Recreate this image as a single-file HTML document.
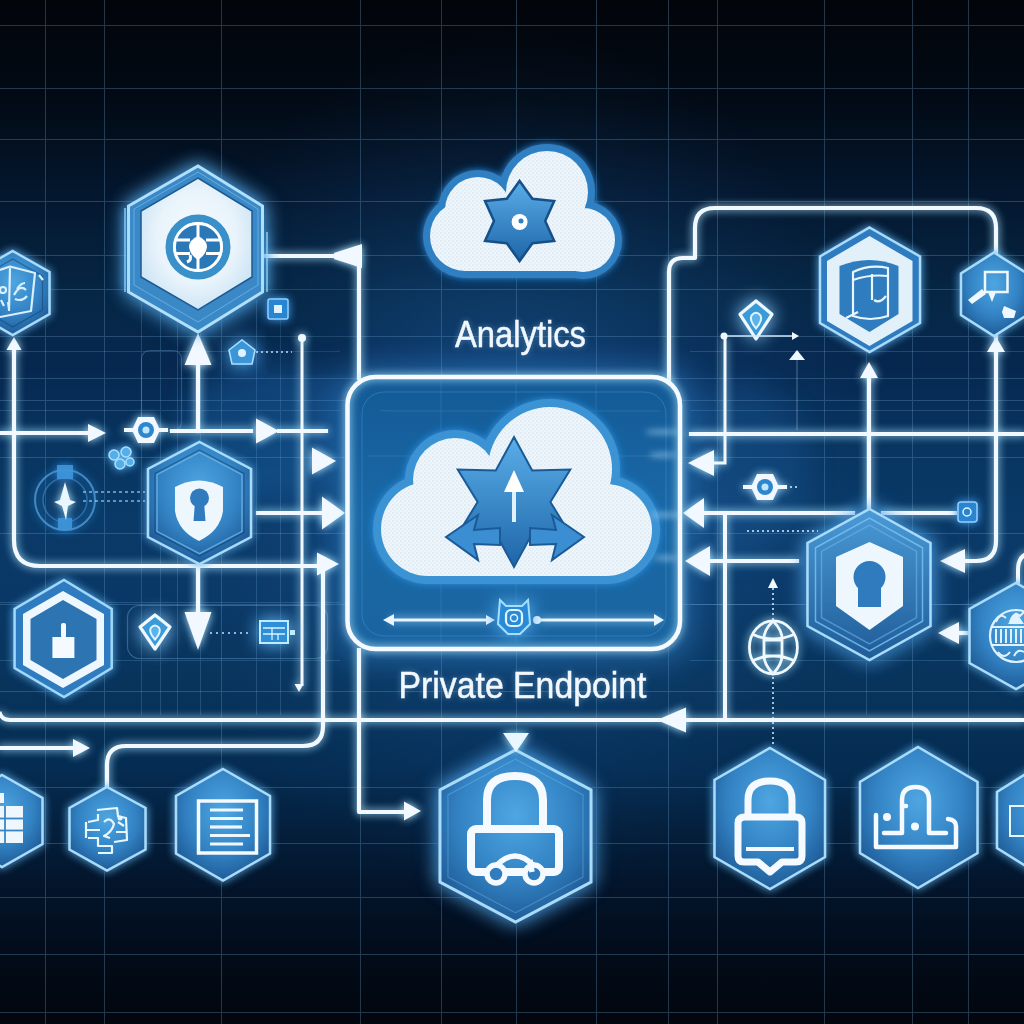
<!DOCTYPE html>
<html><head><meta charset="utf-8"><style>
html,body{margin:0;padding:0;background:#050b14;width:1024px;height:1024px;overflow:hidden}
svg{display:block}
text{font-family:"Liberation Sans",sans-serif}
</style></head><body>
<svg width="1024" height="1024" viewBox="0 0 1024 1024">
<defs>
<linearGradient id="bg" x1="0" y1="0" x2="0" y2="1">
<stop offset="0.0000" stop-color="#02050a"/>
<stop offset="0.0977" stop-color="#020a15"/>
<stop offset="0.1953" stop-color="#041830"/>
<stop offset="0.2930" stop-color="#062746"/>
<stop offset="0.3613" stop-color="#062850"/>
<stop offset="0.4297" stop-color="#083460"/>
<stop offset="0.5078" stop-color="#0a3a68"/>
<stop offset="0.5859" stop-color="#0a3866"/>
<stop offset="0.6641" stop-color="#08345c"/>
<stop offset="0.7520" stop-color="#052c52"/>
<stop offset="0.8105" stop-color="#041f3c"/>
<stop offset="0.8691" stop-color="#03142a"/>
<stop offset="0.9375" stop-color="#020b18"/>
<stop offset="1.0000" stop-color="#02060d"/>
</linearGradient>
<radialGradient id="cglow" cx="512" cy="460" r="430" gradientUnits="userSpaceOnUse" gradientTransform="translate(512 460) scale(0.85 1) translate(-512 -460)">
<stop offset="0" stop-color="#2f8ae0" stop-opacity="0.40"/>
<stop offset="0.45" stop-color="#1f6ab8" stop-opacity="0.22"/>
<stop offset="1" stop-color="#1a4a80" stop-opacity="0"/>
</radialGradient>
<linearGradient id="boxfill" x1="0" y1="0" x2="0" y2="1">
<stop offset="0" stop-color="#135a96"/>
<stop offset="0.5" stop-color="#1a68a6"/>
<stop offset="1" stop-color="#1a64a0"/>
</linearGradient>
<linearGradient id="hexblue" x1="0" y1="0" x2="0" y2="1">
<stop offset="0" stop-color="#4a9ad6"/>
<stop offset="1" stop-color="#1f5c98"/>
</linearGradient>
<linearGradient id="hexblue2" x1="0" y1="0" x2="0" y2="1">
<stop offset="0" stop-color="#3f8fcf"/>
<stop offset="1" stop-color="#1b4f86"/>
</linearGradient>
<radialGradient id="hexrad" cx="0.5" cy="0.38" r="0.62">
<stop offset="0" stop-color="#4ea6e2"/>
<stop offset="0.6" stop-color="#3383c4"/>
<stop offset="1" stop-color="#205c98"/>
</radialGradient>
<radialGradient id="hexwhite" cx="0.5" cy="0.45" r="0.6">
<stop offset="0" stop-color="#f8fcff"/>
<stop offset="0.6" stop-color="#e8f3fb"/>
<stop offset="1" stop-color="#c9e2f4"/>
</radialGradient>
<linearGradient id="star" x1="0" y1="0" x2="0" y2="1">
<stop offset="0" stop-color="#5aaee8"/>
<stop offset="1" stop-color="#1e65a8"/>
</linearGradient>
<pattern id="dots" width="4" height="4" patternUnits="userSpaceOnUse">
<rect width="4" height="4" fill="#eef6fc"/><circle cx="1" cy="1" r="0.8" fill="#d0e2f0"/><circle cx="3" cy="3" r="0.8" fill="#dbe9f5"/>
</pattern>
<filter id="glow" filterUnits="userSpaceOnUse" x="-50" y="-50" width="1124" height="1124">
<feGaussianBlur in="SourceGraphic" stdDeviation="4" result="b0"/>
<feColorMatrix in="b0" type="matrix" values="0.45 0 0 0 0  0 0.8 0 0 0.02  0 0 1 0 0.05  0 0 0 1.1 0" result="b"/>
<feMerge><feMergeNode in="b"/><feMergeNode in="SourceGraphic"/></feMerge>
</filter>
<filter id="glow2" filterUnits="userSpaceOnUse" x="-50" y="-50" width="1124" height="1124">
<feGaussianBlur in="SourceGraphic" stdDeviation="9" result="b0"/>
<feColorMatrix in="b0" type="matrix" values="0.45 0 0 0 0  0 0.8 0 0 0.02  0 0 1 0 0.05  0 0 0 1.2 0" result="b"/>
<feMerge><feMergeNode in="b"/><feMergeNode in="SourceGraphic"/></feMerge>
</filter>
<filter id="blur3" filterUnits="userSpaceOnUse" x="-50" y="-50" width="1124" height="1124"><feGaussianBlur stdDeviation="3"/></filter>
<filter id="blur8" filterUnits="userSpaceOnUse" x="-50" y="-50" width="1124" height="1124"><feGaussianBlur stdDeviation="14"/></filter>
</defs>
<rect width="1024" height="1024" fill="url(#bg)"/>
<rect width="1024" height="1024" fill="url(#cglow)"/>

<g stroke="#6a9cc4" stroke-width="1" opacity="0.32">
<line x1="45.5" y1="0" x2="45.5" y2="1024"/>
<line x1="104.5" y1="0" x2="104.5" y2="1024"/>
<line x1="221.5" y1="0" x2="221.5" y2="1024"/>
<line x1="360.5" y1="0" x2="360.5" y2="1024"/>
<line x1="441.5" y1="0" x2="441.5" y2="1024"/>
<line x1="516.5" y1="0" x2="516.5" y2="1024"/>
<line x1="596.5" y1="0" x2="596.5" y2="1024"/>
<line x1="668.5" y1="0" x2="668.5" y2="1024"/>
<line x1="717.5" y1="0" x2="717.5" y2="1024"/>
<line x1="824.5" y1="0" x2="824.5" y2="1024"/>
<line x1="912.5" y1="0" x2="912.5" y2="1024"/>
<line x1="968.5" y1="0" x2="968.5" y2="1024"/>
<line x1="0" y1="25.5" x2="1024" y2="25.5"/>
<line x1="0" y1="88.5" x2="1024" y2="88.5"/>
<line x1="0" y1="139.5" x2="1024" y2="139.5"/>
<line x1="0" y1="201.5" x2="1024" y2="201.5"/>
<line x1="0" y1="255.5" x2="1024" y2="255.5"/>
<line x1="0" y1="289.5" x2="1024" y2="289.5"/>
<line x1="0" y1="336.5" x2="1024" y2="336.5"/>
<line x1="0" y1="378.5" x2="1024" y2="378.5"/>
<line x1="0" y1="400.5" x2="1024" y2="400.5"/>
<line x1="0" y1="457.5" x2="1024" y2="457.5"/>
<line x1="0" y1="533.5" x2="1024" y2="533.5"/>
<line x1="0" y1="604.5" x2="1024" y2="604.5"/>
<line x1="0" y1="691.5" x2="1024" y2="691.5"/>
<line x1="0" y1="787.5" x2="1024" y2="787.5"/>
<line x1="0" y1="843.5" x2="1024" y2="843.5"/>
<line x1="0" y1="897.5" x2="1024" y2="897.5"/>
<line x1="0" y1="954.5" x2="1024" y2="954.5"/>
<line x1="0" y1="1012.5" x2="1024" y2="1012.5"/>
</g>
<g stroke="#7ab8e6" stroke-width="1" opacity="0.22">
<line x1="141.5" y1="300" x2="141.5" y2="715"/>
<line x1="160.5" y1="300" x2="160.5" y2="715"/>
<line x1="177.5" y1="300" x2="177.5" y2="715"/>
<line x1="200.5" y1="300" x2="200.5" y2="715"/>
<line x1="256.5" y1="300" x2="256.5" y2="715"/>
<line x1="280.5" y1="300" x2="280.5" y2="715"/>
<line x1="0" y1="351.5" x2="340" y2="351.5"/>
<line x1="0" y1="410.5" x2="340" y2="410.5"/>
<line x1="0" y1="602.5" x2="340" y2="602.5"/>
<line x1="0" y1="660.5" x2="340" y2="660.5"/>
<line x1="866.5" y1="260" x2="866.5" y2="715"/>
<line x1="690" y1="351.5" x2="1024" y2="351.5"/>
<line x1="690" y1="410.5" x2="1024" y2="410.5"/>
<line x1="690" y1="604.5" x2="1024" y2="604.5"/>
<line x1="690" y1="660.5" x2="1024" y2="660.5"/>
</g>
<rect x="127.5" y="605.5" width="200" height="53" rx="12" fill="none" stroke="#7ab8e6" stroke-width="1.2" opacity="0.35"/>
<rect x="141.5" y="350.5" width="40" height="80" rx="8" fill="none" stroke="#7ab8e6" stroke-width="1.2" opacity="0.3"/>
<rect x="265.5" y="262.5" width="90" height="112" rx="8" fill="#04203c" opacity="0.25"/>
<g filter="url(#blur8)" opacity="0.6">
<rect x="335" y="365" width="358" height="296" rx="30" fill="#3a90d8" opacity="0.7"/>
<ellipse cx="270" cy="430" rx="90" ry="70" fill="#2a80d0" opacity="0.35"/>
<ellipse cx="740" cy="470" rx="70" ry="90" fill="#2a80d0" opacity="0.25"/>
<polygon points="198,166 262,206 262,292 198,332 128,292 128,206" fill="#4aa0e0" opacity="0.6"/>
<polygon points="515,745 591,789 591,877 515,921 440,877 440,789" fill="#3a90d8" opacity="0.6"/>
<polygon points="869,509 930,543 930,626 869,660 807,626 807,543" fill="#3a90d8" opacity="0.6"/>
</g>
<g filter="url(#glow)">
<path d="M14 348 L14 540 Q14 566 40 566 L318 566" fill="none" stroke="#f2f8ff" stroke-width="4.2" stroke-linecap="square" stroke-linejoin="round"/>
<polygon points="6.5,350 14,337 21.5,350" fill="#f2f8ff"/>
<polygon points="317,552.5 339,564 317,575.5" fill="#f2f8ff"/>
<path d="M323 572 L323 726 Q323 746 303 746 L126 746 Q107 746 107 765 L107 787" fill="none" stroke="#f2f8ff" stroke-width="4.2" stroke-linecap="square" stroke-linejoin="round"/>
<path d="M0 433 L92 433" fill="none" stroke="#f2f8ff" stroke-width="4.2" stroke-linecap="square" stroke-linejoin="round"/>
<polygon points="88,424.0 106,433 88,442.0" fill="#f2f8ff"/>
<path d="M172 431 L251 431 M279 431 L326 431" fill="none" stroke="#f2f8ff" stroke-width="4.2" stroke-linecap="square" stroke-linejoin="round"/>
<polygon points="256,418.5 279,431 256,443.5" fill="#f2f8ff"/>
<path d="M198 431 L198 362" fill="none" stroke="#f2f8ff" stroke-width="4.2" stroke-linecap="square" stroke-linejoin="round"/>
<polygon points="184.5,365 198,333 211.5,365" fill="#f2f8ff"/>
<path d="M198 566 L198 615" fill="none" stroke="#f2f8ff" stroke-width="4.2" stroke-linecap="square" stroke-linejoin="round"/>
<polygon points="184.5,612 198,650 211.5,612" fill="#f2f8ff"/>
<polygon points="312,447.5 336,461 312,474.5" fill="#f2f8ff"/>
<path d="M258 513 L323 513" fill="none" stroke="#f2f8ff" stroke-width="4.2" stroke-linecap="square" stroke-linejoin="round"/>
<polygon points="322,496.5 345,513 322,529.5" fill="#f2f8ff"/>
<path d="M265 256 L338 256" fill="none" stroke="#f2f8ff" stroke-width="4.2" stroke-linecap="square" stroke-linejoin="round"/>
<polygon points="334,253 362,244 362,268 334,259" fill="#f2f8ff"/>
<path d="M359 262 L359 378" fill="none" stroke="#f2f8ff" stroke-width="4.2" stroke-linecap="square" stroke-linejoin="round"/>
<path d="M359 650 L359 812 L405 812" fill="none" stroke="#f2f8ff" stroke-width="4.2" stroke-linecap="square" stroke-linejoin="round"/>
<polygon points="404,801.5 421,811 404,820.5" fill="#f2f8ff"/>
<path d="M0 714 Q2 720 10 720 L1024 720" fill="none" stroke="#f2f8ff" stroke-width="4.2" stroke-linecap="square" stroke-linejoin="round"/>
<polygon points="686,707.5 657,720 686,732.5" fill="#f2f8ff"/>
<path d="M0 748 L76 748" fill="none" stroke="#f2f8ff" stroke-width="4.2" stroke-linecap="square" stroke-linejoin="round"/>
<polygon points="73,739.0 90,748 73,757.0" fill="#f2f8ff"/>
<path d="M669 386 L669 272 Q669 258 683 258 L695 258 L695 228 Q695 208 715 208 L976 208 Q996 208 996 228 L996 541 Q996 561 976 561 L962 561" fill="none" stroke="#f2f8ff" stroke-width="4.2" stroke-linecap="square" stroke-linejoin="round"/>
<polygon points="965,549.0 940,561 965,573.0" fill="#f2f8ff"/>
<path d="M691 434 L1024 434" fill="none" stroke="#f2f8ff" stroke-width="4.2" stroke-linecap="square" stroke-linejoin="round"/>
<path d="M869 370 L869 509" fill="none" stroke="#f2f8ff" stroke-width="4.2" stroke-linecap="square" stroke-linejoin="round"/>
<polygon points="860.0,378 869,362 878.0,378" fill="#f2f8ff"/>
<polygon points="987.0,352 996,337 1005.0,352" fill="#f2f8ff"/>
<path d="M725 337 L725 463 L712 463" fill="none" stroke="#f2f8ff" stroke-width="3"/>
<polygon points="714,450.0 688,463 714,476.0" fill="#f2f8ff"/>
<path d="M703 513 L853 513 M883 513 L955 513" fill="none" stroke="#f2f8ff" stroke-width="4.2" stroke-linecap="square" stroke-linejoin="round"/>
<polygon points="704,498.0 683,513 704,528.0" fill="#f2f8ff"/>
<path d="M725 513 L725 719" fill="none" stroke="#f2f8ff" stroke-width="4"/>
<path d="M709 561 L797 561" fill="none" stroke="#f2f8ff" stroke-width="4.2" stroke-linecap="square" stroke-linejoin="round"/>
<polygon points="710,546.0 685,561 710,576.0" fill="#f2f8ff"/>
<path d="M955 633 L969 633" fill="none" stroke="#f2f8ff" stroke-width="4.2" stroke-linecap="square" stroke-linejoin="round"/>
<polygon points="959,622.0 938,633 959,644.0" fill="#f2f8ff"/>
<path d="M302 338 L302 686" fill="none" stroke="#f2f8ff" stroke-width="3"/>
<polygon points="294.5,684 299,692 303.5,684" fill="#f2f8ff"/>
<path d="M1030 553 Q1018 555 1018 570 L1018 584" fill="none" stroke="#f2f8ff" stroke-width="4"/>
</g>
<rect x="347.5" y="377" width="332.5" height="272" rx="28" fill="url(#boxfill)"/>
<rect x="347.5" y="377" width="332.5" height="272" rx="28" fill="none" stroke="#f4faff" stroke-width="4.5" filter="url(#glow)"/>
<rect x="362" y="392" width="304" height="244" rx="22" fill="none" stroke="#5aa6e0" stroke-width="1" opacity="0.35"/>
<g stroke="#4d8fc4" stroke-width="1" opacity="0.35">
<line x1="441" y1="380" x2="441" y2="646"/>
<line x1="516" y1="380" x2="516" y2="646"/>
<line x1="596" y1="380" x2="596" y2="646"/>
<path d="M368 456 L660 456 M380 410.5 Q385 411 400 411 L660 411" fill="none"/>
</g>
<g filter="url(#glow)">
<g fill="#3a93d3">
<circle cx="428" cy="529" r="55"/>
<circle cx="455" cy="480" r="50"/>
<circle cx="550" cy="469" r="70"/>
<circle cx="606" cy="530" r="54"/>
<rect x="428" y="480" width="178" height="104"/>
</g>
<g fill="url(#dots)">
<circle cx="428" cy="529" r="47"/>
<circle cx="455" cy="480" r="42"/>
<circle cx="550" cy="469" r="62"/>
<circle cx="606" cy="530" r="46"/>
<rect x="428" y="480" width="178" height="96"/>
</g>
</g>
<polygon points="514.0,437.0 532.2,470.5 570.3,469.5 550.4,502.0 570.3,534.5 532.2,533.5 514.0,567.0 495.8,533.5 457.7,534.5 477.6,502.0 457.7,469.5 495.8,470.5" fill="url(#star)" stroke="#1a5a96" stroke-width="2"/>
<polygon points="446,537 478,515 474,530 500,528 500,545 474,544 478,560" fill="#3b8ed2" stroke="#1a5a96" stroke-width="2"/>
<polygon points="584,537 552,515 556,530 530,528 530,545 556,544 552,560" fill="#3b8ed2" stroke="#1a5a96" stroke-width="2"/>
<polygon points="514,470 524,492 504,492" fill="#ffffff"/>
<rect x="512" y="492" width="4" height="30" fill="#dff0ff"/>
<g filter="url(#glow)" stroke="#e8f4ff" stroke-width="3" fill="none">
<path d="M390 620 L488 620"/>
<path d="M540 620 L660 620"/>
</g>
<polygon points="383,620 394,614 394,626" fill="#e8f4ff"/>
<polygon points="495,620 486,615 486,625" fill="#e8f4ff"/>
<polygon points="664,620 654,614 654,626" fill="#e8f4ff"/>
<circle cx="537" cy="620" r="4" fill="#e8f4ff"/>
<g filter="url(#glow2)"><path d="M500 600 L506 606 L522 606 L528 600 L530 624 L520 634 L508 634 L498 624 Z" fill="#2c8ad6" stroke="#9fe0ff" stroke-width="2"/><rect x="506" y="610" width="16" height="16" rx="5" fill="none" stroke="#e0f6ff" stroke-width="2.2"/><circle cx="514" cy="618" r="3.5" fill="none" stroke="#e0f6ff" stroke-width="1.5"/></g>
<g filter="url(#glow)">
<g fill="#2f80c2">
<circle cx="465" cy="236" r="42"/>
<circle cx="478" cy="210" r="40"/>
<circle cx="547" cy="192" r="48"/>
<circle cx="583" cy="240" r="39"/>
<rect x="465" y="210" width="118" height="68"/>
</g>
<g fill="url(#dots)">
<circle cx="465" cy="236" r="35"/>
<circle cx="478" cy="210" r="33"/>
<circle cx="547" cy="192" r="41"/>
<circle cx="583" cy="240" r="32"/>
<rect x="465" y="210" width="118" height="61"/>
</g>
</g>
<polygon points="519.6,181.0 532.4,198.8 554.2,201.0 545.2,221.0 554.2,241.0 532.4,243.2 519.6,261.0 506.8,243.2 485.0,241.0 494.0,221.0 485.0,201.0 506.8,198.8" fill="url(#star)" stroke="#174f88" stroke-width="2.5"/>
<circle cx="519.6" cy="222" r="8" fill="#ffffff"/><circle cx="521" cy="221" r="2.5" fill="#2a7fc8"/>
<g filter="url(#blur3)" fill="#bfe8ff">
<ellipse cx="663" cy="432" rx="18" ry="2.5" opacity="0.55"/>
<ellipse cx="663" cy="455" rx="14" ry="2.5" opacity="0.55"/>
<ellipse cx="666" cy="515" rx="16" ry="2.5" opacity="0.55"/>
<ellipse cx="666" cy="558" rx="12" ry="2.5" opacity="0.55"/>
</g>
<text x="455" y="346.5" font-size="37" fill="#9fd0f5" opacity="0.5" textLength="131" lengthAdjust="spacingAndGlyphs" filter="url(#blur3)">Analytics</text>
<text x="455" y="346.5" font-size="37" fill="#f2f8ff" stroke="#f2f8ff" stroke-width="0.5" textLength="131" lengthAdjust="spacingAndGlyphs">Analytics</text>
<text x="398.5" y="698" font-size="36.5" fill="#9fd0f5" opacity="0.5" textLength="248" lengthAdjust="spacingAndGlyphs" filter="url(#blur3)">Private Endpoint</text>
<text x="398.5" y="698" font-size="36.5" fill="#f2f8ff" stroke="#f2f8ff" stroke-width="0.5" textLength="248" lengthAdjust="spacingAndGlyphs">Private Endpoint</text>
<polygon points="198,166 262.5,206 262.5,292 198,332 128.5,292 128.5,206" fill="#3b88c6" stroke="#b0e0fb" stroke-width="3" filter="url(#glow2)"/>
<polygon points="198,178 252,211 252,277 198,310 141,277 141,211" fill="url(#hexwhite)" stroke="#1d5a92" stroke-width="1.5"/>
<polygon points="198,172 258,209 258,285 198,322 134,285 134,209" fill="none" stroke="#7cc6f4" stroke-width="1" opacity="0.6"/>
<g stroke="#8fd4ff" stroke-width="2" opacity="0.7" filter="url(#glow)"><line x1="125" y1="208" x2="125" y2="292"/><line x1="267" y1="232" x2="267" y2="292"/></g>
<circle cx="198" cy="247" r="28.75" fill="none" stroke="#3a90c8" stroke-width="7.5"/>
<circle cx="198" cy="247" r="23.5" fill="#2b78b8" stroke="#ffffff" stroke-width="2.8"/>
<path d="M198 224 L198 270 M175 240 L190 240 M206 240 L221 240 M175 253.5 L190 253.5 M206 253.5 L221 253.5" stroke="#ffffff" stroke-width="3"/>
<path d="M198 236 Q207 240 207 247 Q206 255 198 260 Q190 255 189 247 Q189 240 198 236 Z" fill="#ffffff"/>
<path d="M190 255 Q192 260 187 262" stroke="#ffffff" stroke-width="3" fill="none"/>
<polygon points="12.7,251 49.5,272 49.5,314 12.7,335 -24,314 -24,272" fill="url(#hexrad)" stroke="#a8dcfa" stroke-width="2.5" filter="url(#glow)"/>
<polygon points="12.7,259.05 42.5,276.05 42.5,309.95 12.7,326.95 -17,309.95 -17,276.05" fill="none" stroke="#0f3a66" stroke-width="1.2" opacity="0.5"/>
<g stroke="#d8efff" stroke-width="2.2" fill="none" stroke-linejoin="round"><path d="M0 270 L10 266.5 L35 273 L31 311 L0 317"/><path d="M10 268 L9 311"/><path d="M14 295 Q20 284 26 290 M15 299 Q22 302 27 296 M17 289 Q21 283 25 283"/><circle cx="3" cy="290" r="3"/><path d="M1 300 L4 306 M8 302 L9 309"/><path d="M39 275 L43 280"/></g>
<polygon points="199.5,442 251,469 251,537 199.5,564 148,537 148,469" fill="url(#hexrad)" stroke="#a8dcfa" stroke-width="2.5" filter="url(#glow)"/>
<polygon points="199.5,450.05 244,473.38009708737866 244,532.6199029126215 199.5,555.95 155,532.6199029126215 155,473.38009708737866" fill="none" stroke="#0f3a66" stroke-width="1.2" opacity="0.5"/>
<polygon points="199.5,452.35 242,474.63155339805826 242,531.3684466019417 199.5,553.65 157,531.3684466019417 157,474.63155339805826" fill="none" stroke="#6ab4ea" stroke-width="1.5" opacity="0.8"/>
<path d="M175 487 Q199 474 223 487 L223 511 Q220 531 199 541 Q178 531 175 511 Z" fill="#eef7fd"/>
<circle cx="199.5" cy="498" r="9.5" fill="#2f7bbd"/><path d="M195 502 L204 502 L205.5 521 L193.5 521 Z" fill="#2f7bbd"/>
<polygon points="64,580 111.7,609 111.7,668 64,697 14.6,668 14.6,609" fill="#2f7cbf" stroke="#9fd8fa" stroke-width="2.5" filter="url(#glow)"/>
<polygon points="63,591 104,614 104,665 63,688 23,665 23,614" fill="#eef7fd"/>
<polygon points="63,600 96.5,619 96.5,660 63,679 30.5,660 30.5,619" fill="#2d74b3"/>
<rect x="52.4" y="637" width="22" height="21" fill="#f4faff"/><rect x="61" y="623" width="5" height="15" rx="2" fill="#f4faff"/>
<polygon points="869.5,227.5 920,256.5 920,323 869.5,352 820,323 820,256.5" fill="#2f7cbf" stroke="#a8dcfa" stroke-width="2.5" filter="url(#glow)"/>
<polygon points="869.5,236 912.5,261 912.5,321 869.5,346 827,321 827,261" fill="#e2f0fa"/>
<path d="M839.5 266 Q869.5 254 898.5 266 L898.5 314 L869.5 332 L839.5 314 Z" fill="#2f7cbf"/>
<g stroke="#e8f6ff" stroke-width="2.2" fill="none" stroke-linejoin="round"><path d="M853 272 Q870 264 888 268 L888 316 Q870 322 853 316 Z"/><path d="M853 280 Q870 274 888 276"/><path d="M872 274 L872 300"/><path d="M874 300 Q880 304 886 296"/><path d="M846 318 L858 312"/></g>
<polygon points="994,252.5 1027,273.5 1027,315 994,336 961,315 961,273.5" fill="url(#hexrad)" stroke="#a8dcfa" stroke-width="2.5" filter="url(#glow)"/>
<g stroke="#f0f8ff" stroke-width="2.5" fill="none"><rect x="985" y="272" width="22.5" height="20"/></g>
<path d="M988 292 L992 302 L996 292 Z" fill="#f0f8ff"/>
<path d="M968 300 L982 289 L986 294 L972 304 Z" fill="#f0f8ff"/><path d="M1004 306 L1016 311 L1014 318 L1004 318 L1002 312 Z" fill="#f0f8ff"/>
<polygon points="869.5,509 930.5,543 930.5,626 869.5,660 807.5,626 807.5,543" fill="url(#hexblue)" stroke="#a8dcfa" stroke-width="2.5" filter="url(#glow2)"/>
<polygon points="869.5,518.2 922.5,547.7772357723578 922.5,621.2227642276422 869.5,650.8 815.5,621.2227642276422 815.5,547.7772357723578" fill="none" stroke="#7cc4f2" stroke-width="1.5" opacity="0.8"/>
<polygon points="869.5,525.1 916.5,551.360162601626 916.5,617.639837398374 869.5,643.9 821.5,617.639837398374 821.5,551.360162601626" fill="none" stroke="#6ab4ea" stroke-width="1.5" opacity="0.6"/>
<polygon points="869.5,542 903,557 903,606 869.5,630 836,606 836,557" fill="#eef7fd"/>
<circle cx="869.5" cy="577" r="16" fill="#2f7bbd"/><rect x="858" y="580" width="23" height="27" fill="#2f7bbd"/>
<polygon points="1016,583 1062.5,609 1062.5,663 1016,689 969.5,663 969.5,609" fill="url(#hexrad)" stroke="#a8dcfa" stroke-width="2.5" filter="url(#glow)"/>
<circle cx="1016" cy="636" r="26" fill="none" stroke="#e0f2ff" stroke-width="2.2"/>
<g stroke="#e0f2ff" stroke-width="2" fill="none"><path d="M991 627 L1024 627 M991 645 L1024 645"/><path d="M996 629 L996 643 M1001 629 L1001 643 M1006 629 L1006 643 M1011 629 L1011 643 M1016 629 L1016 643 M1021 629 L1021 643"/><path d="M996 622 Q1000 612 1006 618 M1010 622 Q1014 610 1020 616 L1024 612"/><path d="M998 652 Q1004 660 1010 652 M1014 656 Q1018 648 1024 652"/></g>
<path d="M1008 624 L1016 612 L1024 624 Z" fill="#e0f2ff"/>
<polygon points="2,775 42.5,798 42.5,844 2,867 -38,844 -38,798" fill="url(#hexrad)" stroke="#a8dcfa" stroke-width="2.5" filter="url(#glow)"/>
<rect x="-2" y="806" width="25" height="37" fill="#eef7fd"/>
<g stroke="#3a86c4" stroke-width="1.8"><line x1="-2" y1="818.5" x2="23" y2="818.5"/><line x1="-2" y1="830.5" x2="23" y2="830.5"/><line x1="5" y1="806" x2="5" y2="843"/></g>
<rect x="0" y="793" width="4" height="10" fill="#eef7fd"/>
<polygon points="107,787 145.5,808 145.5,849.5 107,870.5 69.5,849.5 69.5,808" fill="url(#hexrad)" stroke="#a8dcfa" stroke-width="2.5" filter="url(#glow)"/>
<g stroke="#e8f6ff" stroke-width="2.2" fill="none" stroke-linejoin="round"><path d="M97 810 L117 808 L118 816"/><path d="M88 822 L98 820 L98 814 M86 830 L100 830 M88 838 L98 838 L98 846 L112 846 L112 853 L98 853"/><path d="M117 816 L126 818 L127 840 L114 842"/><path d="M104 822 Q110 816 114 824 Q112 832 104 836 L110 838"/><path d="M118 822 L124 826 M116 832 L126 832"/><path d="M86 822 L86 838"/></g>
<circle cx="120" cy="818" r="2.5" fill="#e8f6ff"/>
<polygon points="223,769 270,796 270,853.5 223,880.5 176,853.5 176,796" fill="url(#hexrad)" stroke="#a8dcfa" stroke-width="2.5" filter="url(#glow)"/>
<rect x="198.5" y="801" width="58" height="52" fill="none" stroke="#f4faff" stroke-width="3.5"/>
<g stroke="#eef7fd" stroke-width="3.2"><line x1="210" y1="810" x2="243" y2="810"/><line x1="210" y1="818.5" x2="243" y2="818.5"/><line x1="210" y1="827" x2="242" y2="827"/><line x1="210" y1="835.5" x2="250" y2="835.5"/><line x1="210" y1="844" x2="243" y2="844"/></g>
<polygon points="515.5,750 591,790 591,882 515.5,922 440,882 440,790" fill="url(#hexrad)" stroke="#a8dcfa" stroke-width="3" filter="url(#glow2)"/>
<polygon points="515.5,759.2 583,794.9615894039736 583,877.0384105960264 515.5,912.8 448,877.0384105960264 448,794.9615894039736" fill="none" stroke="#7cc4f2" stroke-width="1.2" opacity="0.35"/>
<g stroke="#f4faff" stroke-width="8" fill="none" stroke-linejoin="round"><path d="M487 826 L487 800 Q487 776 515 776 Q543 776 543 800 L543 826"/><rect x="471" y="829" width="88" height="43" rx="5"/></g>
<g stroke="#f4faff" stroke-width="5.5" fill="none"><path d="M496 866 Q515 846 534 866"/><circle cx="496" cy="874" r="9" fill="#2f7cbf"/><circle cx="534" cy="874" r="9" fill="#2f7cbf"/><path d="M530 860 L532 872"/></g>
<polygon points="503,733 529,733 516,752" fill="#e8f6ff" filter="url(#glow)"/>
<polygon points="770,748 825,780 825,857 770,889 714.5,857 714.5,780" fill="url(#hexrad)" stroke="#a8dcfa" stroke-width="2.5" filter="url(#glow)"/>
<g stroke="#f4faff" stroke-width="7" fill="none" stroke-linejoin="round"><path d="M748 815 L748 800 Q748 781 770 781 Q792 781 792 800 L792 815"/><path d="M745 817 L796 817 Q802 817 802 823 L802 856 Q802 862 796 862 L782 862 L770 872 L758 862 L744 862 Q738 862 738 856 L738 823 Q738 817 745 817 Z"/></g>
<line x1="746" y1="849" x2="794" y2="849" stroke="#f4faff" stroke-width="4"/>
<polygon points="918,747 977.5,782 977.5,853 918,888 860,853 860,782" fill="url(#hexrad)" stroke="#a8dcfa" stroke-width="2.5" filter="url(#glow)"/>
<g stroke="#f4faff" stroke-width="4.5" fill="none" stroke-linecap="round" stroke-linejoin="round"><path d="M876 815 L876 847 L956 847 L956 826 Q956 820 948 819"/><path d="M884 833 L902 833 L902 800 Q902 787 915.5 787 Q929 787 929 800 L929 833 L946 833"/><path d="M902 806 L906 806"/></g>
<circle cx="887" cy="817" r="4" fill="#f4faff"/><circle cx="915" cy="826.5" r="4" fill="#f4faff"/>
<polygon points="1045,762 1093,792 1093,848 1045,878 997,848 997,792" fill="url(#hexrad)" stroke="#a8dcfa" stroke-width="2.5" filter="url(#glow)"/>
<rect x="1010" y="806" width="18" height="30" fill="none" stroke="#e8f6ff" stroke-width="2"/>
<g filter="url(#glow)"><line x1="124" y1="430" x2="168" y2="430" stroke="#f2f8ff" stroke-width="4"/><polygon points="138,417 154,417 160,430 154,443 138,443 132,430" fill="#f2f8ff"/><circle cx="146" cy="430" r="8" fill="#2f86cc"/><circle cx="146" cy="430" r="3.5" fill="#bfe6ff"/></g>
<g filter="url(#glow)"><line x1="743" y1="487" x2="787" y2="487" stroke="#f2f8ff" stroke-width="4"/><polygon points="757,474 773,474 779,487 773,500 757,500 751,487" fill="#f2f8ff"/><circle cx="765" cy="487" r="8" fill="#2f86cc"/><circle cx="765" cy="487" r="3.5" fill="#bfe6ff"/></g>
<g filter="url(#glow2)"><polygon points="155,615.0 170.0,626.9 155,649.0 140.0,626.9" fill="#3a9ad8" stroke="#eef8ff" stroke-width="3.2" stroke-linejoin="round"/><path d="M155 639.48 Q148.4 632 150.8 627.92 Q155 623.16 159.2 627.92 Q161.6 632 155 639.48 Z" fill="#5ab4ea" stroke="#dff4ff" stroke-width="2"/></g>
<g filter="url(#glow2)"><polygon points="756,301.0 772.0,314.3 756,339.0 740.0,314.3" fill="#3a9ad8" stroke="#eef8ff" stroke-width="3.2" stroke-linejoin="round"/><path d="M756 328.36 Q748.96 320 751.52 315.44 Q756 310.12 760.48 315.44 Q763.04 320 756 328.36 Z" fill="#5ab4ea" stroke="#dff4ff" stroke-width="2"/></g>
<g filter="url(#glow)"><rect x="268" y="299" width="20" height="20" rx="2" fill="#2a85d0" stroke="#8fd0ff" stroke-width="1.5"/><rect x="274" y="305" width="8" height="8" fill="#dff2ff"/></g>
<g filter="url(#glow2)"><polygon points="229,350 242,340 255,350 252,364 232,364" fill="#3b95d8" stroke="#a8e2ff" stroke-width="1.5"/><circle cx="242" cy="353" r="4" fill="#e0f4ff"/></g>
<g stroke="#b8e2ff" stroke-width="1.3" stroke-dasharray="2 3"><line x1="256" y1="352" x2="292" y2="352"/></g>
<g filter="url(#glow)" fill="#56aee8" stroke="#a8e0ff" stroke-width="1.5"><circle cx="114" cy="455" r="5"/><circle cx="126" cy="452" r="5"/><circle cx="120" cy="464" r="5"/><circle cx="130" cy="462" r="4"/></g>
<g filter="url(#glow)"><circle cx="65" cy="500" r="30" fill="none" stroke="#4f9ad6" stroke-width="2" opacity="0.8"/><circle cx="65" cy="500" r="22" fill="none" stroke="#3f8ac6" stroke-width="1.5" opacity="0.6"/><rect x="57" y="465" width="16" height="14" fill="#3f95d8" opacity="0.9"/><rect x="58" y="518" width="14" height="12" fill="#3f95d8" opacity="0.9"/><path d="M65 482 L70 500 L76 502 L68 506 L66 520 L62 506 L54 502 L60 500 Z" fill="#eaf7ff"/></g>
<g stroke="#9dd3f5" stroke-width="1.5" stroke-dasharray="3 3" opacity="0.8"><line x1="83" y1="492" x2="145" y2="492"/><line x1="83" y1="501" x2="145" y2="501"/></g>
<g filter="url(#glow2)"><rect x="260" y="621" width="28" height="22" fill="#2f8fd8" stroke="#c0ecff" stroke-width="2"/><path d="M263 628 L285 628 M263 634 L285 634 M272 628 L272 640 M278 634 L278 640" stroke="#d8f4ff" stroke-width="1.3"/><rect x="290" y="630" width="5" height="5" fill="#c0ecff"/></g>
<g stroke="#b8e2ff" stroke-width="1.5" stroke-dasharray="2 4"><line x1="210" y1="633" x2="252" y2="633"/><line x1="500" y1="633" x2="0" y2="633" opacity="0"/></g>
<g filter="url(#glow)" stroke="#eef8ff" stroke-width="2.8" fill="none" stroke-linejoin="round"><ellipse cx="773.4" cy="647.4" rx="24" ry="26.5"/><path d="M773 621 Q763 631 764 640 L764 656 Q764 664 773 674 Q782 664 782 656 L782 640 Q783 631 773 621 Z"/><path d="M752 634 Q773 644 795 634 M752 661 Q773 651 795 661 M764 640 L782 640 M764 656 L782 656"/></g>
<g stroke="#d8efff" stroke-width="1.5" stroke-dasharray="2 3"><line x1="773" y1="588" x2="773" y2="622"/><line x1="773" y1="672" x2="773" y2="745"/><line x1="747" y1="531" x2="818" y2="531"/><line x1="790" y1="487" x2="800" y2="487"/></g>
<polygon points="768.0,588 773,578 778.0,588" fill="#f2f8ff"/>
<g filter="url(#glow)"><rect x="958" y="502" width="19" height="20" rx="3" fill="#2a85d0" stroke="#8fd0ff" stroke-width="1.5"/><circle cx="967" cy="512" r="4" fill="none" stroke="#e0f4ff" stroke-width="1.5"/></g>
<g stroke="#cfeaff" stroke-width="2"><line x1="724" y1="336" x2="793" y2="336" stroke-width="1.4"/><line x1="797" y1="358" x2="797" y2="430" opacity="0.3" stroke-width="1.2"/></g>
<circle cx="724" cy="336" r="3.5" fill="#f0f8ff"/>
<polygon points="792,332 799,336 792,340" fill="#f0f8ff"/><polygon points="789,360 797,350 805,360" fill="#f0f8ff"/>
<circle cx="302" cy="338" r="4" fill="#f0f8ff" filter="url(#glow)"/>
</svg></body></html>
